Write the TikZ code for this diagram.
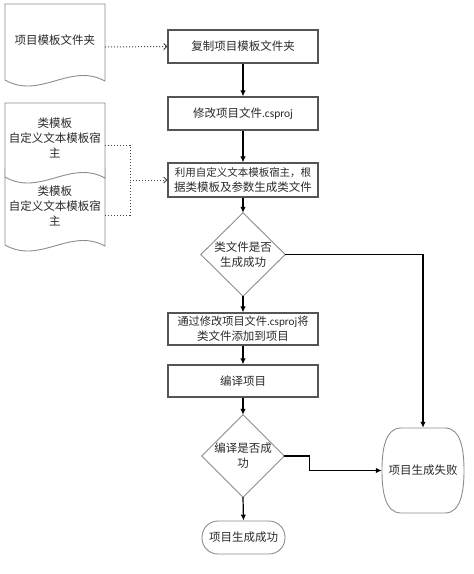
\documentclass[tikz,border=0pt]{standalone}
\usepackage{fontspec}
\setmainfont{Noto Sans CJK SC}
\newfontfamily\lat{Carlito}
\usetikzlibrary{arrows.meta}
\definecolor{boxline}{HTML}{555555}
\definecolor{softline}{HTML}{8C8C8C}
\definecolor{txt}{HTML}{2A2A2A}
\definecolor{dotcol}{HTML}{444444}
\begin{document}
\begin{tikzpicture}[x=1pt,y=-1pt,
  every node/.style={text=txt, font=\fontsize{11.5}{15}\selectfont, align=center, inner sep=0pt},
  procbox/.style={draw=boxline, line width=1.1pt, minimum width=150pt, minimum height=33pt},
  hidden/.style={draw=none},
  softshape/.style={draw=softline, line width=0.9pt},
  docline/.style={draw=softline, line width=0.9pt, fill=white},
  flow/.style={-{Latex[length=6pt,width=5.5pt]}, line width=1.2pt, draw=black},
  plainflow/.style={line width=1.2pt, draw=black},
  dotarrow/.style={-{Straight Barb[length=3pt,width=6pt]}, dash pattern=on 1pt off 2pt, line width=1pt, draw=dotcol},
  dotline/.style={dash pattern=on 1pt off 2pt, line width=1pt, draw=dotcol}
]
\useasboundingbox (0,0) rectangle (474,574);

% documents
\draw[docline] (5,4) -- (105,4) -- (105,81) .. controls (70,62) and (40,100) .. (5,80) -- cycle;
\draw[docline] (5,169) -- (105,169) -- (105,246) .. controls (70,227) and (40,265) .. (5,245) -- cycle;
\draw[docline] (5,103) -- (105,103) -- (105,178) .. controls (70,159) and (40,197) .. (5,177) -- cycle;

\node[hidden, minimum width=100pt, minimum height=86pt] (doc1) at (55,47) {};
\node (doc1t) at (55,40) {项目模板文件夹};
\node[hidden, minimum width=100pt, minimum height=84pt] (docA) at (55,145) {};
\node (docAt) at (55,137.5) {类模板\\自定义文本模板宿\\主};
\node[hidden, minimum width=100pt, minimum height=76pt] (docB) at (55,215) {};
\node (docBt) at (55,206) {类模板\\自定义文本模板宿\\主};
\coordinate (jn) at (130,180);

% process boxes
\node[procbox] (box1) at (243,46.5) {复制项目模板文件夹};
\node[procbox] (box2) at (243,113.5) {修改项目文件{\lat .csproj}};
\node[procbox, minimum height=34pt] (box3) at (243,180) {\fontsize{10.5}{14}\selectfont 利用自定义文本模板宿主，根\\据类模板及参数生成类文件};
\node[hidden, minimum width=84pt, minimum height=83pt] (d1) at (243,254.5) {类文件是否\\生成成功};
\draw[softshape] (d1.north) -- (d1.east) -- (d1.south) -- (d1.west) -- cycle;
\node[procbox, minimum height=32pt] (box4) at (243,329) {\fontsize{11.2}{14}\selectfont 通过修改项目文件{\lat .csproj}将\\类文件添加到项目};
\node[procbox, minimum height=32pt] (box5) at (243,381) {编译项目};
\node[hidden, minimum width=82pt, minimum height=82pt] (d2) at (243,456) {编译是否成\\功};
\draw[softshape] (d2.north) -- (d2.east) -- (d2.south) -- (d2.west) -- cycle;
\node[draw=softline, line width=0.9pt, rounded corners=16pt, minimum width=83pt, minimum height=33pt] (ok) at (243.5,537.5) {项目生成成功};
\node[hidden, minimum width=82pt, minimum height=85pt] (fail) at (423,470.5) {项目生成失败};
\draw[softshape] (401,428) -- (445,428) .. controls (461,428) and (464,450) .. (464,470.5)
  .. controls (464,491) and (461,513) .. (445,513) -- (401,513)
  .. controls (385,513) and (382,491) .. (382,470.5)
  .. controls (382,450) and (385,428) .. (401,428) -- cycle;

% connectors
\draw[dotarrow] (doc1.east) -- (box1.west);
\draw[dotline] (docA.east) -| (jn);
\draw[dotline] (docB.east) -| (jn);
\draw[dotarrow] (jn) -- (box3.west);

\draw[flow] (box1.south) -- (box2.north);
\draw[flow] (box2.south) -- (box3.north);
\draw[flow] (box3.south) -- (d1.north);
\draw[flow] (d1.south) -- (box4.north);
\draw[flow] (box4.south) -- (box5.north);
\draw[flow] (box5.south) -- (d2.north);
\draw[flow] (d2.south) -- (ok.north);
\draw[flow] (d1.east) -| (fail.north);
\draw[flow] (d2.east) -- ++(25,0) |- (fail.west);
\end{tikzpicture}
\end{document}
